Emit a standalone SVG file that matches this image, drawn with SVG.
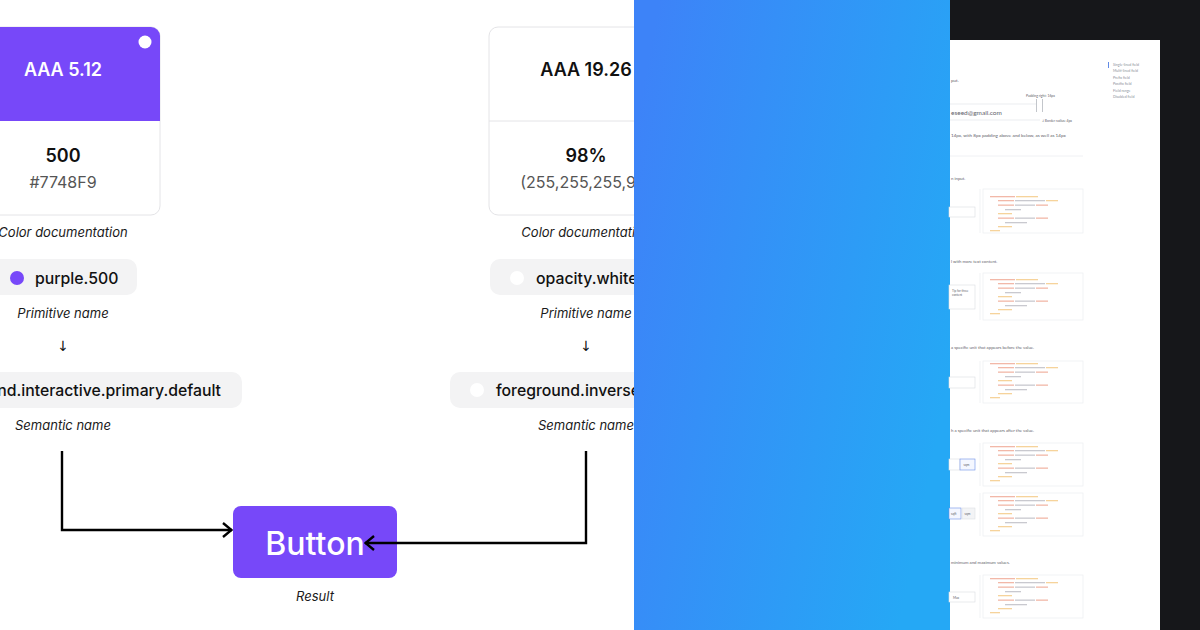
<svg xmlns="http://www.w3.org/2000/svg" width="1200" height="630" viewBox="0 0 1200 630">
<defs>
<linearGradient id="blue" x1="0" y1="0.2" x2="1" y2="0.6">
<stop offset="0" stop-color="#3d83f8"/>
<stop offset="1" stop-color="#25a8f5"/>
</linearGradient>
<marker id="chev" viewBox="0 0 12 16" refX="11" refY="8" markerWidth="12" markerHeight="16" markerUnits="userSpaceOnUse" orient="auto">
<path d="M2,1 L10.5,8 L2,15" fill="none" stroke="#000" stroke-width="2.4"/>
</marker>
<clipPath id="leftArea"><rect x="0" y="0" width="634" height="630"/></clipPath>
</defs>
<style>
.ui{font-family:Inter,"Noto Sans","Liberation Sans",sans-serif}
.cap{font-family:Inter,"Noto Sans","Liberation Sans",sans-serif;font-style:italic;font-size:13px;fill:#1a1a1a;text-anchor:middle}
.pill{fill:#f3f3f4}
.pilltxt{font-family:Inter,"Noto Sans","Liberation Sans",sans-serif;font-size:15.8px;font-weight:500;fill:#111}
.card{fill:#fff;stroke:#e4e4e7;stroke-width:1}
.big{font-family:Inter,"Noto Sans","Liberation Sans",sans-serif;font-weight:600;font-size:18px;text-anchor:middle}
.sub{font-family:Inter,"Noto Sans","Liberation Sans",sans-serif;font-size:16px;fill:#555;text-anchor:middle}
.arr{font-family:"DejaVu Sans",sans-serif;font-size:14px;fill:#111;text-anchor:middle}
.conn{fill:none;stroke:#000;stroke-width:2.4}
.doc{font-family:Lato,"Open Sans","Liberation Sans",sans-serif;fill:#5f636b}
.nav{font-family:Lato,"Liberation Sans",sans-serif;font-size:3.6px;fill:#8a8f98}
.codebox{fill:#fff;stroke:#eef0f3;stroke-width:0.8}
.inp{fill:#fff;stroke:#d9dce1;stroke-width:0.6}
.c1{fill:#f2b8a8}.c2{fill:#f6d39b}.c3{fill:#c9c9cf}
</style>
<rect width="1200" height="630" fill="#fff"/>
<g clip-path="url(#leftArea)">
<g id="card-purple">
<rect class="card" x="-34" y="27" width="194" height="188" rx="9"/>
<path d="M-34,36 a9,9 0 0 1 9,-9 H151 a9,9 0 0 1 9,9 V121 H-34 Z" fill="#7748f9"/>
<circle cx="145" cy="42" r="6.5" fill="#fff"/>
<text class="big" x="63" y="76" fill="#fff" font-size="19">AAA 5.12</text>
<text class="big" x="63" y="162" fill="#111">500</text>
<text class="sub" x="63" y="188">#7748F9</text>
<text class="cap" x="63" y="237">Color documentation</text>
</g>
<g id="card-white">
<rect class="card" x="489" y="27" width="194" height="188" rx="9"/>
<line x1="489" y1="121" x2="683" y2="121" stroke="#e4e4e7"/>
<text class="big" x="586" y="76" fill="#111" font-size="19">AAA 19.26</text>
<text class="big" x="586" y="162" fill="#111">98%</text>
<text class="sub" x="586" y="188">(255,255,255,98)</text>
<text class="cap" x="586" y="237">Color documentation</text>
</g>
<g id="primitive-purple">
<rect class="pill" x="-11" y="259" width="148" height="36" rx="10"/>
<circle cx="17" cy="278" r="7" fill="#7748f9"/>
<text class="pilltxt" x="35" y="284">purple.500</text>
<text class="cap" x="63" y="318">Primitive name</text>
<text class="arr" x="63" y="351">↓</text>
</g>
<g id="semantic-purple">
<rect class="pill" x="-116" y="372" width="358" height="36" rx="10"/>
<circle cx="-96" cy="390" r="7" fill="#fff"/>
<text class="pilltxt" x="221" y="396" text-anchor="end">background.interactive.primary.default</text>
<text class="cap" x="63" y="430">Semantic name</text>
</g>
<g id="primitive-white">
<rect class="pill" x="490" y="259" width="192" height="36" rx="10"/>
<circle cx="517" cy="278" r="7" fill="#fff"/>
<text class="pilltxt" x="536" y="284">opacity.white.98</text>
<text class="cap" x="586" y="318">Primitive name</text>
<text class="arr" x="586" y="351">↓</text>
</g>
<g id="semantic-white">
<rect class="pill" x="450" y="372" width="272" height="36" rx="10"/>
<circle cx="477" cy="390" r="7" fill="#fff"/>
<text class="pilltxt" x="496" y="396">foreground.inverse</text>
<text class="cap" x="586" y="430">Semantic name</text>
</g>
<g id="button">
<rect x="233" y="506" width="164" height="72" rx="8" fill="#7748f9"/>
<text class="ui" x="315" y="555" font-size="32" font-weight="500" fill="#fff" text-anchor="middle">Button</text>
<text class="cap" x="315" y="601">Result</text>
</g>
<g id="connectors">
<path class="conn" d="M62,451 V530 H232" marker-end="url(#chev)"/>
<path class="conn" d="M586,451 V543 H365" marker-end="url(#chev)"/>
</g>
</g>
<rect id="blue-panel" x="634" y="0" width="316" height="630" fill="url(#blue)"/>
<g id="doc-screenshot">
<rect x="950" y="0" width="250" height="630" fill="#16171a"/>
<rect x="950" y="40" width="210" height="590" fill="#fff"/>
<text class="doc" x="951" y="82" font-size="4.5">put.</text>
<rect x="1108" y="62" width="0.8" height="6" fill="#3b6fe0"/>
<text class="nav" x="1113" y="65.5" fill="#4a78e6">Single-lined field</text>
<text class="nav" x="1113" y="72">Multi-lined field</text>
<text class="nav" x="1113" y="78.5">Prefix field</text>
<text class="nav" x="1113" y="85">Postfix field</text>
<text class="nav" x="1113" y="91.5">Field range</text>
<text class="nav" x="1113" y="98">Disabled field</text>
<text class="doc" x="1026" y="97" font-size="3.4">Padding right: 16px</text>
<line x1="1036.5" y1="99" x2="1036.5" y2="112" stroke="#9aa0a8" stroke-width="0.6"/>
<line x1="1042.5" y1="99" x2="1042.5" y2="112" stroke="#9aa0a8" stroke-width="0.6"/>
<line x1="950" y1="104" x2="1036" y2="104" stroke="#e3e5e9" stroke-width="0.7"/>
<line x1="950" y1="120" x2="1040" y2="120" stroke="#e3e5e9" stroke-width="0.7"/>
<text class="doc" x="951" y="115" font-size="6.5" fill="#555">eseed@gmail.com</text>
<text class="doc" x="1042" y="121.5" font-size="3.4">⅃ Border radius: 4px</text>
<text class="doc" x="951" y="137" font-size="4.6">14px, with 8px padding above and below, as well as 14px</text>
<line x1="950" y1="156" x2="1083" y2="156" stroke="#eceef1" stroke-width="0.8"/>

<text class="doc" x="951" y="180" font-size="4.3">n input.</text>
<rect class="codebox" x="983" y="189" width="100" height="44"/>
<line x1="980" y1="189" x2="980" y2="233" stroke="#eef0f3" stroke-width="0.8"/>
<rect class="inp" x="949" y="207" width="26" height="10"/>
<g>
<rect class="c1" x="990" y="196" width="25" height="1.3"/><rect class="c2" x="1016" y="196" width="22" height="1.3"/>
<rect class="c1" x="998" y="200" width="16" height="1.3"/><rect class="c3" x="1015" y="200" width="30" height="1.3"/><rect class="c2" x="1046" y="200" width="12" height="1.3"/>
<rect class="c1" x="998" y="204.5" width="16" height="1.3"/><rect class="c3" x="1015" y="204.5" width="20" height="1.3"/><rect class="c1" x="1036" y="204.5" width="12" height="1.3"/>
<rect class="c3" x="1005" y="209" width="16" height="1.3"/>
<rect class="c2" x="998" y="213" width="14" height="1.3"/>
<rect class="c1" x="998" y="217.5" width="16" height="1.3"/><rect class="c3" x="1015" y="217.5" width="20" height="1.3"/><rect class="c1" x="1036" y="217.5" width="12" height="1.3"/>
<rect class="c3" x="1005" y="222" width="22" height="1.3"/>
<rect class="c2" x="998" y="226" width="14" height="1.3"/>
<rect class="c2" x="990" y="230" width="10" height="1.3"/>
</g>

<text class="doc" x="951" y="263" font-size="4.3">l with more text content.</text>
<rect class="codebox" x="983" y="273" width="100" height="47"/>
<line x1="980" y1="273" x2="980" y2="320" stroke="#eef0f3" stroke-width="0.8"/>
<rect class="inp" x="949" y="285" width="26" height="24"/>
<text class="doc" x="952" y="292" font-size="3">Tip for three</text>
<text class="doc" x="952" y="296" font-size="3">content</text>
<g transform="translate(0,83)">
<rect class="c1" x="990" y="196" width="25" height="1.3"/><rect class="c2" x="1016" y="196" width="22" height="1.3"/>
<rect class="c1" x="998" y="200" width="16" height="1.3"/><rect class="c3" x="1015" y="200" width="30" height="1.3"/><rect class="c2" x="1046" y="200" width="12" height="1.3"/>
<rect class="c1" x="998" y="204.5" width="16" height="1.3"/><rect class="c3" x="1015" y="204.5" width="20" height="1.3"/><rect class="c1" x="1036" y="204.5" width="12" height="1.3"/>
<rect class="c3" x="1005" y="209" width="16" height="1.3"/>
<rect class="c2" x="998" y="213" width="14" height="1.3"/>
<rect class="c1" x="998" y="217.5" width="16" height="1.3"/><rect class="c3" x="1015" y="217.5" width="20" height="1.3"/><rect class="c1" x="1036" y="217.5" width="12" height="1.3"/>
<rect class="c3" x="1005" y="222" width="22" height="1.3"/>
<rect class="c2" x="998" y="226" width="14" height="1.3"/>
<rect class="c2" x="990" y="230" width="10" height="1.3"/>
</g>

<text class="doc" x="951" y="349" font-size="4.3">a specific unit that appears before the value.</text>
<rect class="codebox" x="983" y="361" width="100" height="42"/>
<line x1="980" y1="361" x2="980" y2="403" stroke="#eef0f3" stroke-width="0.8"/>
<rect class="inp" x="949" y="377" width="26" height="11"/>
<g transform="translate(0,167)">
<rect class="c1" x="990" y="196" width="25" height="1.3"/><rect class="c2" x="1016" y="196" width="22" height="1.3"/>
<rect class="c1" x="998" y="200" width="16" height="1.3"/><rect class="c3" x="1015" y="200" width="30" height="1.3"/><rect class="c2" x="1046" y="200" width="12" height="1.3"/>
<rect class="c1" x="998" y="204.5" width="16" height="1.3"/><rect class="c3" x="1015" y="204.5" width="20" height="1.3"/><rect class="c1" x="1036" y="204.5" width="12" height="1.3"/>
<rect class="c3" x="1005" y="209" width="16" height="1.3"/>
<rect class="c2" x="998" y="213" width="14" height="1.3"/>
<rect class="c1" x="998" y="217.5" width="16" height="1.3"/><rect class="c3" x="1015" y="217.5" width="20" height="1.3"/><rect class="c1" x="1036" y="217.5" width="12" height="1.3"/>
<rect class="c3" x="1005" y="222" width="22" height="1.3"/>
<rect class="c2" x="998" y="226" width="14" height="1.3"/>
<rect class="c2" x="990" y="230" width="10" height="1.3"/>
</g>

<text class="doc" x="951" y="432" font-size="4.3">h a specific unit that appears after the value.</text>
<rect class="codebox" x="983" y="443" width="100" height="43"/>
<line x1="980" y1="443" x2="980" y2="486" stroke="#eef0f3" stroke-width="0.8"/>
<rect class="inp" x="949" y="459" width="11" height="11"/>
<rect x="960" y="459" width="15" height="11" fill="#f4f7ff" stroke="#6d8fe8" stroke-width="0.6"/>
<text class="doc" x="963.5" y="466" font-size="3.2" fill="#3b62c9">sqm</text>
<g transform="translate(0,250)">
<rect class="c1" x="990" y="196" width="25" height="1.3"/><rect class="c2" x="1016" y="196" width="22" height="1.3"/>
<rect class="c1" x="998" y="200" width="16" height="1.3"/><rect class="c3" x="1015" y="200" width="30" height="1.3"/><rect class="c2" x="1046" y="200" width="12" height="1.3"/>
<rect class="c1" x="998" y="204.5" width="16" height="1.3"/><rect class="c3" x="1015" y="204.5" width="20" height="1.3"/><rect class="c1" x="1036" y="204.5" width="12" height="1.3"/>
<rect class="c3" x="1005" y="209" width="16" height="1.3"/>
<rect class="c2" x="998" y="213" width="14" height="1.3"/>
<rect class="c1" x="998" y="217.5" width="16" height="1.3"/><rect class="c3" x="1015" y="217.5" width="20" height="1.3"/><rect class="c1" x="1036" y="217.5" width="12" height="1.3"/>
<rect class="c3" x="1005" y="222" width="22" height="1.3"/>
<rect class="c2" x="998" y="226" width="14" height="1.3"/>
<rect class="c2" x="990" y="230" width="10" height="1.3"/>
</g>

<rect class="codebox" x="983" y="493" width="100" height="43"/>
<line x1="980" y1="493" x2="980" y2="536" stroke="#eef0f3" stroke-width="0.8"/>
<rect x="949" y="508" width="12" height="11" fill="#f4f7ff" stroke="#6d8fe8" stroke-width="0.6"/>
<text class="doc" x="951" y="515" font-size="3.2" fill="#3b62c9">sqft</text>
<rect x="962" y="508" width="13" height="11" fill="#f3f4f6" stroke="#dcdfe4" stroke-width="0.6"/>
<text class="doc" x="964.5" y="515" font-size="3.2">sqm</text>
<g transform="translate(0,300)">
<rect class="c1" x="990" y="196" width="25" height="1.3"/><rect class="c2" x="1016" y="196" width="22" height="1.3"/>
<rect class="c1" x="998" y="200" width="16" height="1.3"/><rect class="c3" x="1015" y="200" width="30" height="1.3"/><rect class="c2" x="1046" y="200" width="12" height="1.3"/>
<rect class="c1" x="998" y="204.5" width="16" height="1.3"/><rect class="c3" x="1015" y="204.5" width="20" height="1.3"/><rect class="c1" x="1036" y="204.5" width="12" height="1.3"/>
<rect class="c3" x="1005" y="209" width="16" height="1.3"/>
<rect class="c2" x="998" y="213" width="14" height="1.3"/>
<rect class="c1" x="998" y="217.5" width="16" height="1.3"/><rect class="c3" x="1015" y="217.5" width="20" height="1.3"/><rect class="c1" x="1036" y="217.5" width="12" height="1.3"/>
<rect class="c3" x="1005" y="222" width="22" height="1.3"/>
<rect class="c2" x="998" y="226" width="14" height="1.3"/>
<rect class="c2" x="990" y="230" width="10" height="1.3"/>
</g>

<text class="doc" x="951" y="564" font-size="4.3">minimum and maximum values.</text>
<rect class="codebox" x="983" y="575" width="100" height="43"/>
<line x1="980" y1="575" x2="980" y2="618" stroke="#eef0f3" stroke-width="0.8"/>
<rect class="inp" x="949" y="592" width="26" height="10"/>
<text class="doc" x="953" y="598.5" font-size="3.2">Max</text>
<g transform="translate(0,382)">
<rect class="c1" x="990" y="196" width="25" height="1.3"/><rect class="c2" x="1016" y="196" width="22" height="1.3"/>
<rect class="c1" x="998" y="200" width="16" height="1.3"/><rect class="c3" x="1015" y="200" width="30" height="1.3"/><rect class="c2" x="1046" y="200" width="12" height="1.3"/>
<rect class="c1" x="998" y="204.5" width="16" height="1.3"/><rect class="c3" x="1015" y="204.5" width="20" height="1.3"/><rect class="c1" x="1036" y="204.5" width="12" height="1.3"/>
<rect class="c3" x="1005" y="209" width="16" height="1.3"/>
<rect class="c2" x="998" y="213" width="14" height="1.3"/>
<rect class="c1" x="998" y="217.5" width="16" height="1.3"/><rect class="c3" x="1015" y="217.5" width="20" height="1.3"/><rect class="c1" x="1036" y="217.5" width="12" height="1.3"/>
<rect class="c3" x="1005" y="222" width="22" height="1.3"/>
<rect class="c2" x="998" y="226" width="14" height="1.3"/>
<rect class="c2" x="990" y="230" width="10" height="1.3"/>
</g>
</g>
</svg>
